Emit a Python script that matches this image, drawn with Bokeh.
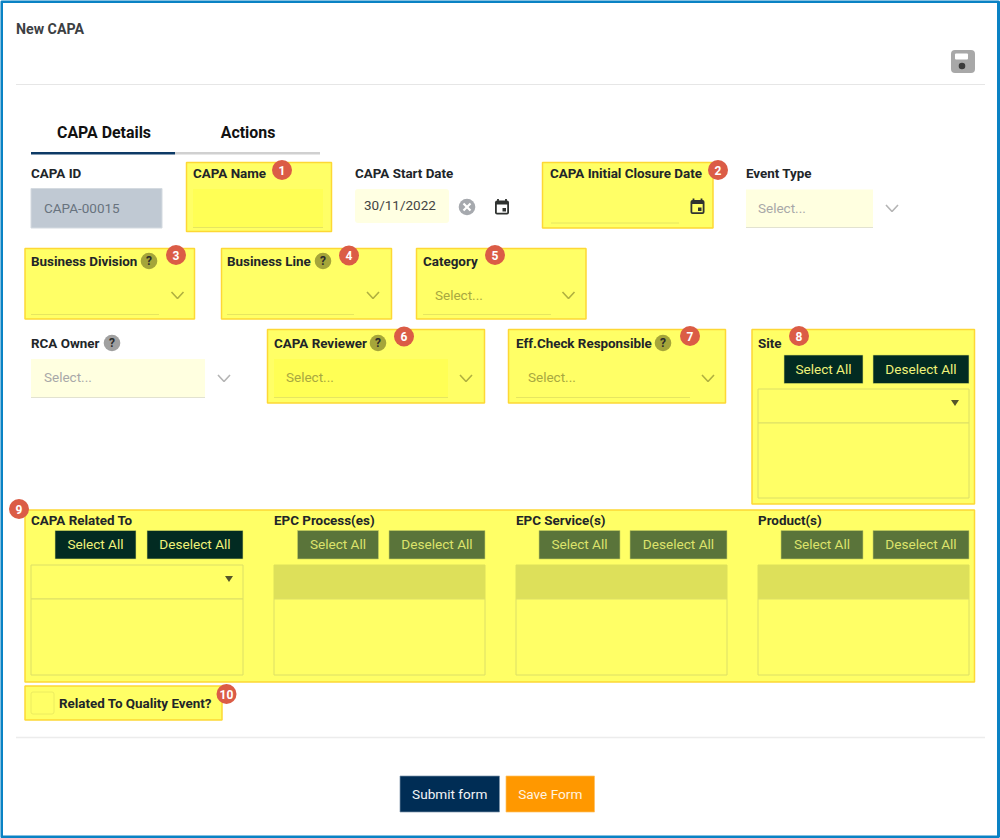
from bokeh.plotting import figure
from bokeh.models import Range1d
from bokeh.core.properties import value
from bokeh.embed import file_html
from bokeh.resources import INLINE

# ---- texts ----
page_title = "New CAPA"
tab_labels = ["CAPA Details", "Actions"]
field_labels = ["CAPA ID", "CAPA Name", "CAPA Start Date", "CAPA Initial Closure Date", "Event Type",
                "Business Division", "Business Line", "Category",
                "RCA Owner", "CAPA Reviewer", "Eff.Check Responsible", "Site",
                "CAPA Related To", "EPC Process(es)", "EPC Service(s)", "Product(s)",
                "Related To Quality Event?"]
capa_id_value = "CAPA-00015"
start_date_value = "30/11/2022"
placeholder = "Select..."
select_all = "Select All"
deselect_all = "Deselect All"
submit_label = "Submit form"
save_label = "Save Form"
badge_numbers = ["1", "2", "3", "4", "5", "6", "7", "8", "9", "10"]

# ---- layout (pixels of the page) ----
label_x = [31, 193, 355, 550, 746, 31, 227, 423, 31, 274, 516, 758, 31, 274, 516, 758, 59]
label_y = [173, 173, 173, 173, 173, 261, 261, 261, 343, 343, 343, 343, 520, 520, 520, 520, 703]
highlights = [(186.5, 331.5, 162.5, 231.5), (542.5, 713, 162.5, 228), (25, 194.5, 248.5, 319),
              (221.5, 391.5, 248.5, 319), (416.5, 586, 248.5, 319), (267.5, 484.5, 329.5, 403),
              (508.5, 725.5, 329.5, 403), (752, 974.5, 329.5, 504), (25, 974.5, 510, 682),
              (25, 222, 686, 720)]
badge_x = [282, 718, 176, 349, 495, 404, 690, 799, 19, 226.5]
badge_y = [170, 170, 255, 255.5, 255, 336.5, 336, 336, 509, 694]
help_x = [149, 323, 112, 378, 663]
help_y = [261, 261, 343, 343, 343]
help_fill = ["#a5a53a", "#a5a53a", "#a0a0a0", "#a5a53a", "#a5a53a"]
chevron_x = [892, 177.5, 373, 568.5, 224, 466, 708]
chevron_y = [208, 295, 295, 295, 378, 378, 378]
chevron_c = ["#b4b4b4", "#b0b040", "#b0b040", "#b0b040", "#b4b4b4", "#b0b040", "#b0b040"]
placeholder_x = [758, 435, 44, 286, 528]
placeholder_y = [207.5, 294.5, 377, 377, 377]
placeholder_c = ["#a8a8a8", "#a8a840", "#a8a8a8", "#a8a840", "#a8a840"]
under_lines = [(193, 323, 227.5), (551, 679, 223), (31, 159, 314.5), (227, 354, 314.5), (423, 551, 314.5),
               (274, 448, 397.5), (516, 690, 397.5)]
active_btn = [(784, 863, 355, 383.5), (873, 969, 355, 383.5), (55, 136, 530.5, 559), (147, 243, 530.5, 559)]
muted_btn = [(297.5, 378.5, 530.5, 559), (389, 485, 530.5, 559), (539, 620, 530.5, 559), (630, 727, 530.5, 559),
             (781, 863, 530.5, 559), (873, 969, 530.5, 559)]
listboxes = [(758, 969, 389, 423, 498), (31, 243, 565, 599, 675), (274, 485, 565, 599, 675),
             (516, 727, 565, 599, 675), (758, 969, 565, 599, 675)]

FONT = "Roboto"
p = figure(width=1000, height=838, x_range=Range1d(0.5, 1000.5), y_range=Range1d(838.5, 0.5),
           output_backend="svg", toolbar_location=None, min_border=0,
           styles={"position": "absolute", "left": "0px", "top": "0px"},
           background_fill_color="white", border_fill_color="white")
p.axis.visible = False
p.grid.visible = False
p.outline_line_color = None


def box(l, r, t, b, fill, line=None, lw=1, radius=0):
    g = p.quad(left=[l], right=[r], top=[t], bottom=[b], fill_color=fill,
               line_color=line, line_width=lw)
    if radius:
        g.glyph.border_radius = radius


def seg(xs, ys, color, lw=1):
    p.line(xs, ys, line_color=color, line_width=lw)


def txt(x, y, s, color="#212529", size=13.5, bold=False, align="left", font=FONT):
    p.text([x], [y], text=[s], text_color=color, text_font=value(font), text_font_size=f"{size}px",
           text_font_style="bold" if bold else "normal", text_align=align, text_baseline="middle")


# window frame
box(1.5, 998.5, 1.5, 837, "white", "#0a82c4", 3)

# header
txt(16, 29, page_title, "#3c4043", 14.2, True)
seg([16, 985], [84.5, 84.5], "#e6e6e6")
box(951, 975, 50, 73, "#a8a8a8", radius=4)
box(955, 968, 53.5, 59.5, "#ffffff", radius=1)
p.circle([962], [66], radius=3.3, fill_color="#3a3a3a", line_color=None)

# tabs
txt(104, 132, tab_labels[0], "#111111", 15.9, True, "center")
txt(248, 132, tab_labels[1], "#111111", 15.9, True, "center")
box(175, 320, 152, 154.5, "#d0d0d0")
box(31, 175, 152, 154.5, "#0d3a66")

# highlights
for l, r, t, b in highlights:
    box(l, r, t, b, "#ffff66", "#fdd835", 1.5)

# plain inputs
box(31, 162, 188.5, 228, "#c0c9d3", "#d4dae0", 1)
txt(44, 207.5, capa_id_value, "#68737e")
box(193, 323, 189, 228, "#ffff55")
box(355, 449, 189, 223, "#ffffe2", radius=3)
txt(364, 205, start_date_value, "#444444")
box(746, 873, 189.5, 227, "#ffffe0")
seg([746, 873], [227.5, 227.5], "#e2e2d0")
box(31, 205, 359, 397, "#ffffe0")
seg([31, 205], [397.5, 397.5], "#e2e2d0")
box(274, 448, 359, 397, "#ffff55")

for l, r, y in under_lines:
    seg([l, r], [y, y], "#e6e660")

# clear icon
p.circle([467], [207], radius=8.3, fill_color="#a6a9ae", line_color=None)
seg([463.5, 470.5], [203.5, 210.5], "white", 2.2)
seg([463.5, 470.5], [210.5, 203.5], "white", 2.2)

# calendar icons
for cx, cy, bg in [(502, 207, "#ffffff"), (697.5, 206.5, "#ffff66")]:
    box(cx - 7, cx + 7, cy - 6.5, cy + 7.5, "#2f3230", radius=2)
    box(cx - 5.2, cx + 5.2, cy - 2.5, cy + 5.8, bg)
    box(cx + 0.5, cx + 4, cy + 1, cy + 4.5, "#2f3230")
    seg([cx - 4, cx - 4], [cy - 8, cy - 5.5], "#2f3230", 1.8)
    seg([cx + 4, cx + 4], [cy - 8, cy - 5.5], "#2f3230", 1.8)

# labels
for x, y, s in zip(label_x, label_y, field_labels):
    txt(x, y, s, "#212529", 13.4, True)

# help bubbles
p.circle(help_x, help_y, radius=8.3, fill_color=help_fill, line_color=None)
for x, y in zip(help_x, help_y):
    txt(x, y, "?", "#2b2b2b", 12, True, "center")

# chevrons
for x, y, c in zip(chevron_x, chevron_y, chevron_c):
    p.line([x - 6, x, x + 6], [y - 3, y + 3.5, y - 3], line_color=c, line_width=1.6)

# placeholders
for x, y, c in zip(placeholder_x, placeholder_y, placeholder_c):
    txt(x, y, placeholder, c)

# buttons
for i, (l, r, t, b) in enumerate(active_btn):
    box(l, r, t, b, "#022b22", "#d9e060", 0.6)
    txt((l + r) / 2, (t + b) / 2 - 0.5, select_all if i % 2 == 0 else deselect_all, "#f0f27a", 13.6, False, "center")
for i, (l, r, t, b) in enumerate(muted_btn):
    box(l, r, t, b, "#5a743a", "#c8d060", 0.6)
    txt((l + r) / 2, (t + b) / 2 - 0.5, select_all if i % 2 == 0 else deselect_all, "#dde36c", 13.6, False, "center")

# list boxes
for i, (l, r, t, m, b) in enumerate(listboxes):
    disabled = i >= 2
    box(l, r, t, m, "#dde05a" if disabled else "#ffff66", "#dde05a" if disabled else "#dcdf66", 1)
    box(l, r, m, b, "#ffff66", "#dcdf66", 1)
    ax = r - 14
    ay = (t + 14)
    if not disabled:
        p.patch([ax - 4, ax + 4, ax], [ay - 3, ay - 3, ay + 3], fill_color="#55552a", line_color=None)

# checkbox
box(31, 54, 692, 714, "#ffff66", "#ecec60", 1, radius=2)

# footer
seg([16, 985], [737.5, 737.5], "#ececec", 1.5)
box(400, 499.5, 776, 812, "#002d55", "#7d94ab", 0.7)
txt(449.75, 794, submit_label, "#f2f4f6", 13.6, False, "center")
box(506, 594.5, 776, 812, "#ff9800", "#ffc060", 0.7)
txt(550.25, 794, save_label, "#fff4e0", 13.6, False, "center")

# badges
p.circle(badge_x, badge_y, radius=10, fill_color="#db5c46", line_color=None)
for x, y, s in zip(badge_x, badge_y, badge_numbers):
    txt(x, y, s, "#ffffff", 12, True, "center")

open("out.html", "w").write(file_html(p, INLINE))
